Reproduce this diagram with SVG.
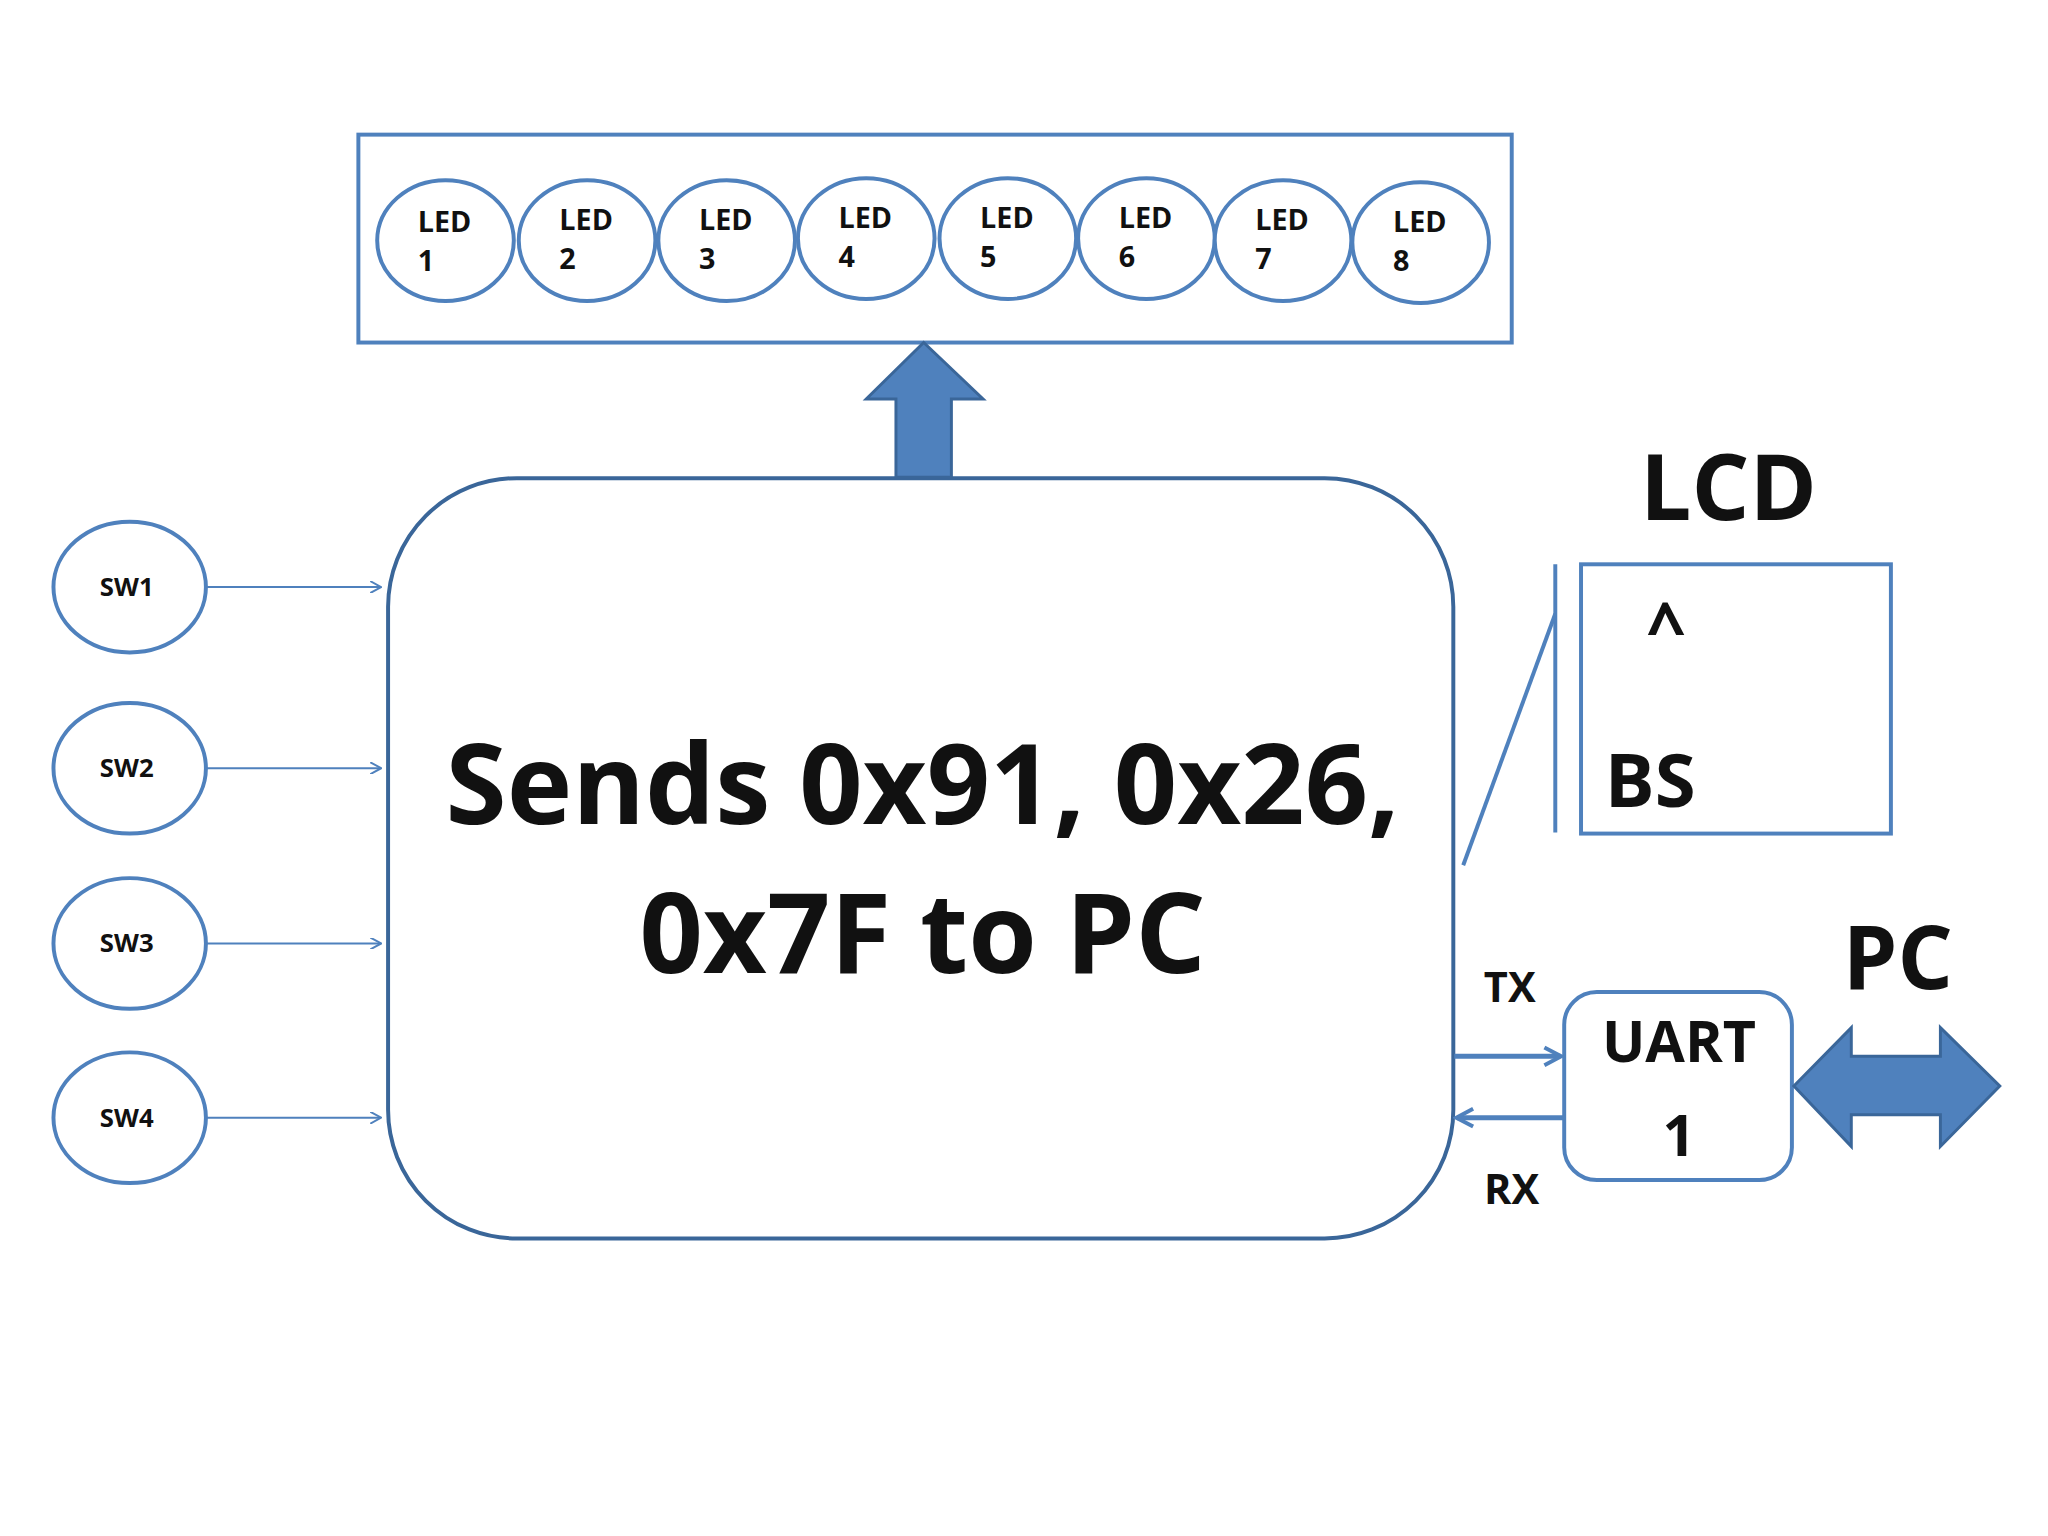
<svg xmlns="http://www.w3.org/2000/svg" width="2048" height="1536" viewBox="0 0 2048 1536">
<defs>
<style>
text{font-family:"Open Sans","Noto Sans",sans-serif;font-weight:bold;fill:#111}
.led{fill:#fff;stroke:#4f81bd;stroke-width:4}
.ln{stroke:#4f81bd;fill:none}
.blk{fill:#4f81bd;stroke:#3a6699;stroke-width:3}
</style>
<marker id="op" markerWidth="12" markerHeight="12" refX="10" refY="6" orient="auto" markerUnits="userSpaceOnUse"><path d="M0,0 L11,6 L0,12" fill="none" stroke="#4f81bd" stroke-width="2"/></marker>
<marker id="op2" markerWidth="22" markerHeight="22" refX="18" refY="11" orient="auto" markerUnits="userSpaceOnUse"><path d="M2,2 L19,11 L2,20" fill="none" stroke="#4f81bd" stroke-width="4"/></marker>
</defs>
<rect width="2048" height="1536" fill="#fff"/>
<g transform="scale(0.99)">
<g id="leds">
<rect x="362" y="136" width="1165" height="210" class="ln" stroke-width="4"/>
<g font-size="29">
<ellipse class="led" cx="450" cy="243" rx="69" ry="61"/><text x="422" y="234">LED</text><text x="422" y="274">1</text>
<ellipse class="led" cx="593" cy="243" rx="69" ry="61"/><text x="565" y="232">LED</text><text x="565" y="272">2</text>
<ellipse class="led" cx="734" cy="243" rx="69" ry="61"/><text x="706" y="232">LED</text><text x="706" y="272">3</text>
<ellipse class="led" cx="875" cy="241" rx="69" ry="61"/><text x="847" y="230">LED</text><text x="847" y="270">4</text>
<ellipse class="led" cx="1018" cy="241" rx="69" ry="61"/><text x="990" y="230">LED</text><text x="990" y="270">5</text>
<ellipse class="led" cx="1158" cy="241" rx="69" ry="61"/><text x="1130" y="230">LED</text><text x="1130" y="270">6</text>
<ellipse class="led" cx="1296" cy="243" rx="69" ry="61"/><text x="1268" y="232">LED</text><text x="1268" y="272">7</text>
<ellipse class="led" cx="1435" cy="245" rx="69" ry="61"/><text x="1407" y="234">LED</text><text x="1407" y="274">8</text>
</g>
</g>
<g id="main">
<rect x="392" y="483" width="1076" height="768" rx="130" fill="#fff" stroke="#3a6699" stroke-width="4"/>
<text x="932" y="832" font-size="112" text-anchor="middle">Sends 0x91, 0x26,</text>
<text x="932" y="983" font-size="112" text-anchor="middle">0x7F to PC</text>
</g>
<g id="switches" font-size="26">
<ellipse class="led" cx="131" cy="593" rx="77" ry="66"/><text x="128" y="602" text-anchor="middle">SW1</text>
<ellipse class="led" cx="131" cy="776" rx="77" ry="66"/><text x="128" y="785" text-anchor="middle">SW2</text>
<ellipse class="led" cx="131" cy="953" rx="77" ry="66"/><text x="128" y="962" text-anchor="middle">SW3</text>
<ellipse class="led" cx="131" cy="1129" rx="77" ry="66"/><text x="128" y="1138" text-anchor="middle">SW4</text>
</g>
<g id="lcd">
<text x="1746" y="525" font-size="92" text-anchor="middle">LCD</text>
<rect x="1597" y="570" width="313" height="272" class="ln" stroke-width="4"/>
<text x="1683" y="660" font-size="70" text-anchor="middle">^</text>
<text x="1621" y="815" font-size="75">BS</text>
</g>
<g id="uart">
<rect x="1580" y="1002" width="230" height="190" rx="33" fill="#fff" class="ln" stroke-width="4"/>
<text x="1696" y="1073" font-size="58" text-anchor="middle">UART</text>
<text x="1696" y="1168" font-size="58" text-anchor="middle">1</text>
</g>
<g id="pc">
<text x="1917" y="999" font-size="88" text-anchor="middle">PC</text>
</g>
<g id="connectors">
<polygon class="blk" points="905,482 905,403 875,403 933,346 993,403 961,403 961,482"/>
<line class="ln" stroke-width="2" x1="209" y1="593" x2="384" y2="593" marker-end="url(#op)"/>
<line class="ln" stroke-width="2" x1="209" y1="776" x2="384" y2="776" marker-end="url(#op)"/>
<line class="ln" stroke-width="2" x1="209" y1="953" x2="384" y2="953" marker-end="url(#op)"/>
<line class="ln" stroke-width="2" x1="209" y1="1129" x2="384" y2="1129" marker-end="url(#op)"/>
<line class="ln" stroke-width="4" x1="1571" y1="570" x2="1571" y2="841"/>
<line class="ln" stroke-width="4" x1="1571" y1="620" x2="1478" y2="874"/>
<line class="ln" stroke-width="5" x1="1469" y1="1067" x2="1576" y2="1067" marker-end="url(#op2)"/>
<line class="ln" stroke-width="5" x1="1580" y1="1129" x2="1472" y2="1129" marker-end="url(#op2)"/>
<text x="1525" y="1012" font-size="42" text-anchor="middle">TX</text>
<text x="1527" y="1216" font-size="42" text-anchor="middle">RX</text>
<polygon class="blk" points="1812,1097 1870,1038 1870,1067 1960,1067 1960,1038 2020,1097 1960,1158 1960,1126 1870,1126 1870,1158"/>
</g>
</g>
</svg>
